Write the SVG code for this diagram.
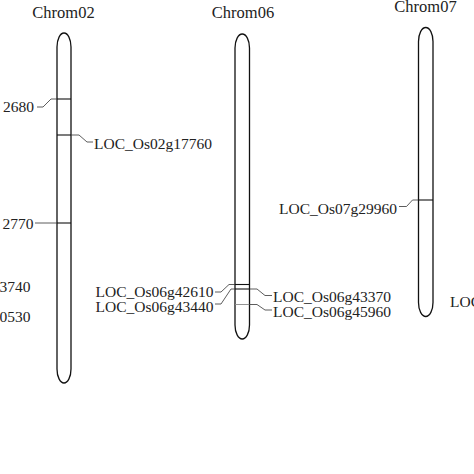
<svg xmlns="http://www.w3.org/2000/svg" width="474" height="474" viewBox="0 0 474 474">
<style>
.chr{fill:#fff;stroke:#111;stroke-width:1.3}
.mk{stroke:#111;stroke-width:1.1}
.mkl{stroke:#888;stroke-width:0.9}
.cn{fill:none;stroke:#333;stroke-width:0.8}
.t{font-family:"Liberation Serif","Times New Roman",serif;font-size:15.5px;fill:#222}
.h{font-family:"Liberation Serif","Times New Roman",serif;font-size:16.5px;fill:#222;text-anchor:middle}
.e{text-anchor:end}
</style>
<rect width="474" height="474" fill="#fff"/>
<g id="chrom02">
<text class="h" x="63.5" y="18">Chrom02</text>
<path class="chr" d="M57,47 A7,14 0 0 1 71,47 V369 A7,14 0 0 1 57,369 Z"/>
<line class="mk" x1="57" y1="99" x2="71" y2="99"/>
<line class="mk" x1="57" y1="135" x2="71" y2="135"/>
<line class="mk" x1="57" y1="223" x2="71" y2="223"/>
</g>
<g id="chrom06">
<text class="h" x="243" y="17.5">Chrom06</text>
<path class="chr" d="M235,48 A7.25,14 0 0 1 249.5,48 V325 A7.25,14 0 0 1 235,325 Z"/>
<line class="mk" x1="235" y1="284.5" x2="249.5" y2="284.5"/>
<line class="mk" x1="235" y1="289" x2="249.5" y2="289" stroke-width="1.5"/>
<line class="mkl" x1="235" y1="304.5" x2="249.5" y2="304.5"/>
</g>
<g id="chrom07">
<text class="h" x="425.5" y="12">Chrom07</text>
<path class="chr" d="M418.5,41.5 A7.25,14 0 0 1 433,41.5 V302.5 A7.25,14 0 0 1 418.5,302.5 Z"/>
<line class="mk" x1="418.5" y1="200" x2="433" y2="200"/>
</g>
<g id="labels">
<text class="t e" x="34" y="112">2680</text>
<text class="t" x="94" y="148.5">LOC_Os02g17760</text>
<text class="t e" x="33.5" y="229">2770</text>
<text class="t e" x="30.5" y="291.5">3740</text>
<text class="t e" x="30.5" y="321.5">0530</text>
<text class="t e" x="213.5" y="297">LOC_Os06g42610</text>
<text class="t e" x="213.5" y="311.5">LOC_Os06g43440</text>
<text class="t" x="273" y="301.5">LOC_Os06g43370</text>
<text class="t" x="273" y="316.5">LOC_Os06g45960</text>
<text class="t e" x="397" y="214">LOC_Os07g29960</text>
<text class="t" x="450" y="307">LOC</text>
</g>
<g id="connectors">
<polyline class="cn" points="37,107 43,107 51,99 57,99"/>
<polyline class="cn" points="71,135 79,135 87,142 93,142"/>
<line class="cn" x1="35" y1="223" x2="57" y2="223"/>
<polyline class="cn" points="215,292 221,292 229,284.5 235,284.5"/>
<polyline class="cn" points="215,304 221,304 231,289 235,289"/>
<polyline class="cn" points="249.5,289 257,289 265,295.5 272,295.5"/>
<polyline class="cn" points="249.5,304.5 257,304.5 265,310 272,310"/>
<polyline class="cn" points="418.5,200 412.5,200 406.5,206.5 399,206.5"/>
</g>
</svg>
